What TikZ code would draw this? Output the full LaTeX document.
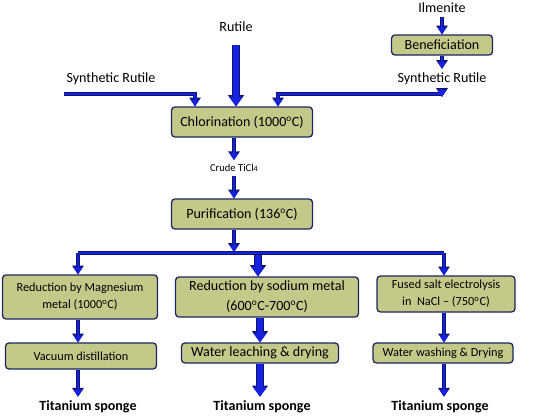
\documentclass[tikz,border=0pt]{standalone}
\usepackage{fontspec}
\setmainfont{Carlito}
\usetikzlibrary{arrows.meta,positioning,calc}

\definecolor{boxfill}{RGB}{196,201,138}
\definecolor{boxedge}{RGB}{28,38,96}
\definecolor{arrowblue}{RGB}{22,34,222}
\definecolor{arrowedge}{RGB}{12,20,110}

\begin{document}
\begin{tikzpicture}[x=0.03cm, y=-0.03cm,
    every node/.style={font=\fontsize{12}{17}\selectfont},
    stage/.style={draw=boxedge, fill=boxfill, rounded corners=3pt, line width=1.1pt, inner sep=0pt, align=center},
    small/.style={font=\fontsize{10.5}{14.5}\selectfont},
    flow/.style={draw=arrowblue, line width=2.4pt, -{Triangle[width=7.5pt,length=6pt]},
        preaction={draw=arrowedge, line width=3.6pt, -{Triangle[width=9.5pt,length=7.5pt]}}},
    bigflow/.style={draw=arrowblue, line width=5pt, -{Triangle[width=11pt,length=8pt]},
        preaction={draw=arrowedge, line width=6.4pt, -{Triangle[width=13pt,length=9.5pt]}}},
    flowbar/.style={draw=arrowblue, line width=2.2pt, preaction={draw=arrowedge, line width=3.4pt}}]
\useasboundingbox (0,0) rectangle (543,416);

% raw materials
\node (ilm) at (442,8) {Ilmenite};
\node (rut) at (236,27) {Rutile};
\node[stage, minimum width=3.03cm, minimum height=0.6cm] (ben) at (442,45) {Beneficiation};
\node (sr2) at (442,79) {Synthetic Rutile};
\node (sr1) at (111,79) {Synthetic Rutile};

% chlorination and purification
\node[stage, minimum width=4.23cm, minimum height=0.9cm] (chl) at (242,122) {Chlorination (1000\textsuperscript{o}C)};
\node[font=\fontsize{9}{11}\selectfont] (crude) at (234,168) {Crude TiCl{\fontsize{7}{8}\selectfont 4}};
\node[stage, minimum width=4.23cm, minimum height=0.9cm] (pur) at (242,214) {Purification (136\textsuperscript{o}C)};

% three routes
\node[stage, small, minimum width=4.65cm, minimum height=1.32cm] (mg) at (80,297) {Reduction by Magnesium\\metal (1000\textsuperscript{o}C)};
\node[stage, minimum width=5.49cm, minimum height=1.2cm] (na) at (267,297) {Reduction by sodium metal\\(600\textsuperscript{o}C-700\textsuperscript{o}C)};
\node[stage, small, minimum width=4.14cm, minimum height=1.08cm] (el) at (446,294) {Fused salt electrolysis\\in~~NaCl -- (750\textsuperscript{o}C)};

\node[stage, small, minimum width=4.53cm, minimum height=0.78cm] (vac) at (81,356) {Vacuum distillation};
\node[stage, minimum width=4.71cm, minimum height=0.6cm] (leach) at (260,353) {Water leaching \& drying};
\node[stage, small, minimum width=4.2cm, minimum height=0.6cm] (wash) at (443,353) {Water washing \& Drying};

\node[font=\bfseries\fontsize{12}{14}\selectfont] (ti1) at (88,407) {Titanium sponge};
\node[font=\bfseries\fontsize{12}{14}\selectfont] (ti2) at (262,407) {Titanium sponge};
\node[font=\bfseries\fontsize{12}{14}\selectfont] (ti3) at (440,407) {Titanium sponge};

% feed lines
\coordinate (rutTop) at (236,45);
\coordinate (lj) at (64,94);
\coordinate (rj) at (442,94);
\coordinate (rjEnd) at (442,97);
\draw[flow] (ilm) -- (ben);
\draw[flow] (ben) -- (sr2);
\draw[bigflow] (rutTop) -- (chl.north -| rutTop);
\draw[flow] (lj) -| ($(chl.north)+(-47,0)$);
\draw[flow] (rj) -| ($(chl.north)+(36,0)$);
\draw[flow] (sr2) -- (rjEnd);

% main line
\coordinate (hub) at (234,252);
\coordinate (b1) at (78,253);
\coordinate (b2) at (258,253);
\coordinate (b3) at (444,253);
\draw[flow] (chl.south -| crude) -- (crude);
\draw[flow] (crude) -- (pur.north -| crude);
\draw[flow] (pur.south -| crude) -- (hub);
\draw[flow] (b1) -- (mg.north -| b1);
\draw[bigflow] (b2) -- (na.north -| b2);
\draw[flow] (b3) -- (el.north -| b3);
\draw[flowbar] (b1) -- (b3);

% routes down to sponge
\draw[flow] (mg.south -| b1) -- (vac.north -| b1);
\draw[flow] (vac.south -| b1) -- (ti1.north -| b1);
\draw[bigflow] (na.south -| leach) -- (leach);
\draw[bigflow] (leach.south) -- (leach.south |- ti2.north);
\draw[flow] (el.south -| b3) -- (wash.north -| b3);
\draw[flow] (wash.south -| b3) -- (ti3.north -| b3);
\end{tikzpicture}
\end{document}
